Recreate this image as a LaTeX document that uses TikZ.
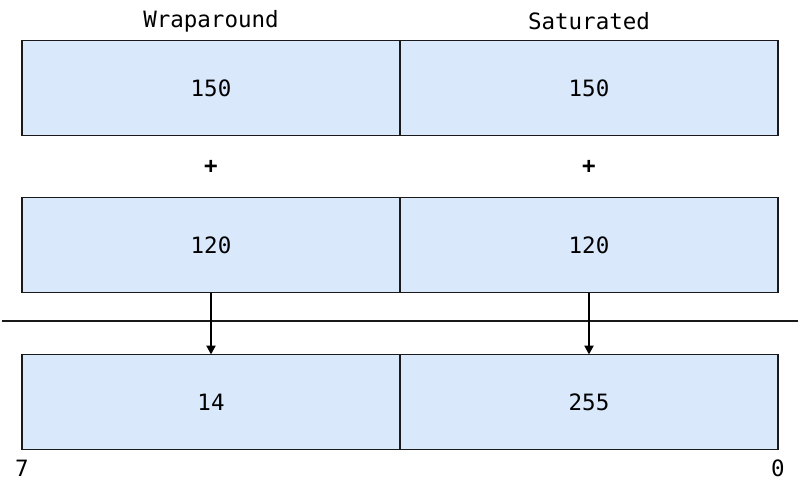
\documentclass[tikz,border=0pt]{standalone}
\usepackage{fontspec}
\setmonofont{DejaVu Sans Mono}
\usetikzlibrary{positioning,arrows.meta,calc}

\definecolor{cellblue}{HTML}{DAE8FC}
\definecolor{edgegray}{HTML}{1A1A1A}

\tikzset{
  cell/.style={draw=edgegray, line width=1.3pt, fill=cellblue, minimum width=378pt,
    minimum height=95pt, inner sep=0pt, outer sep=0pt,
    font=\ttfamily\fontsize{22.5}{26}\selectfont},
  txt/.style={inner sep=0pt, font=\ttfamily\fontsize{22.5}{26}\selectfont},
  flow/.style={line width=2.2pt, -{Triangle[length=9pt,width=9pt]}},
}

\begin{document}
\begin{tikzpicture}[x=1pt,y=1pt]
  \useasboundingbox (0,0) rectangle (804,-485);

  \node [cell] (wa) at (211,-88) {150};
  \node [cell, right=0pt of wa] (sa) {150};
  \node [cell, below=62pt of wa] (wb) {120};
  \node [cell, right=0pt of wb] (sb) {120};
  \node [cell, below=62pt of wb] (wr) {14};
  \node [cell, right=0pt of wr] (sr) {255};

  \node [txt] (wtitle) at (211,-21) {Wraparound};
  \node [txt] (stitle) at (589,-21) {Saturated};
  \node [txt] (wplus) at ($(wa.south)!0.5!(wb.north)$) {\textbf{+}};
  \node [txt] (splus) at ($(sa.south)!0.5!(sb.north)$) {\textbf{+}};
  \node [txt] (msb) at (22,-468) {7};
  \node [txt] (lsb) at (778,-468) {0};

  % sum line
  \coordinate (ruleL) at (2,-321);
  \coordinate (ruleR) at (798,-321);
  \draw [line width=1.3pt, edgegray] (ruleL) -- (ruleR);

  \draw [flow] (wb) -- (wr);
  \draw [flow] (sb) -- (sr);
\end{tikzpicture}
\end{document}
